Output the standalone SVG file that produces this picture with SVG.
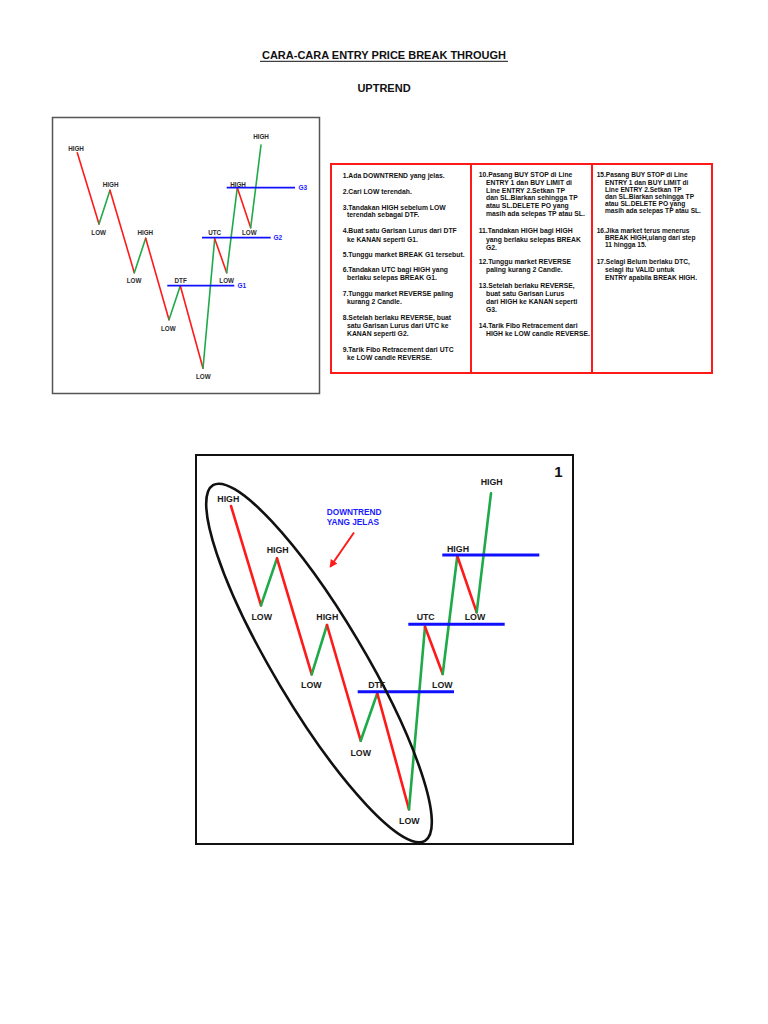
<svg xmlns="http://www.w3.org/2000/svg" width="768" height="1024" viewBox="0 0 768 1024">
<style>
.ttl{font-family:"Liberation Sans",Arial,sans-serif;font-weight:bold;fill:#111;text-anchor:middle}
.sl{font-family:"Liberation Sans",Arial,sans-serif;font-weight:bold;font-size:6.3px;fill:#2a2a2a;text-anchor:middle}
.bl{font-family:"Liberation Sans",Arial,sans-serif;font-weight:bold;font-size:8.8px;fill:#1a1a1a;text-anchor:middle}
.gl{font-family:"Liberation Sans",Arial,sans-serif;font-weight:bold;font-size:6.5px;fill:#1a1aff}
.bx{font-family:"Liberation Sans",Arial,sans-serif;font-weight:bold;font-size:6.8px;fill:#111}
.bx3{font-size:6.6px}
.dn{stroke:#ff1a1a;fill:none;stroke-linecap:round}
.up{stroke:#1faa4a;fill:none;stroke-linecap:round}
.g{stroke:#1010ff;fill:none}
</style>
<defs>
<marker id="ah" viewBox="0 0 10 10" refX="8" refY="5" markerWidth="4" markerHeight="4" orient="auto">
<path d="M0,0 L10,5 L0,10 z" fill="#ff1a1a"/>
</marker>
</defs>
<rect x="0" y="0" width="768" height="1024" fill="#fff"/>

<g id="title">
<text class="ttl" x="384" y="59.3" font-size="11">CARA-CARA ENTRY PRICE BREAK THROUGH</text>
<line x1="260" y1="61.3" x2="508" y2="61.3" stroke="#111" stroke-width="1"/>
<text class="ttl" x="384" y="92" font-size="11">UPTREND</text>
</g>

<g id="small-chart">
<rect x="52.5" y="117.5" width="267" height="276" fill="#fff" stroke="#555" stroke-width="1.5"/>
<g id="small-connectors" stroke-width="1.6">
<polyline class="dn" points="77.3,152.7 99,224"/>
<polyline class="up" points="99,224 110,190.3"/>
<polyline class="dn" points="110,190.3 134.3,272.7"/>
<polyline class="up" points="134.3,272.7 145.7,238.3"/>
<polyline class="dn" points="145.7,238.3 169,319.7"/>
<polyline class="up" points="169,319.7 180.3,285.7"/>
<polyline class="dn" points="180.3,285.7 203,368.3"/>
<polyline class="up" points="203,368.3 214.7,238.7"/>
<polyline class="dn" points="214.7,238.7 226.7,272.7"/>
<polyline class="up" points="226.7,272.7 237.3,187.7"/>
<polyline class="dn" points="237.3,187.7 250.7,227.7"/>
<polyline class="up" points="250.7,227.7 261,145"/>
<line class="g" x1="167.3" y1="285.7" x2="234.3" y2="285.7" stroke-width="1.8"/>
<line class="g" x1="202" y1="237.7" x2="270.7" y2="237.7" stroke-width="1.8"/>
<line class="g" x1="226.7" y1="187.7" x2="295" y2="187.7" stroke-width="1.8"/>
</g>
<text class="sl" x="76" y="151">HIGH</text>
<text class="sl" x="98.7" y="234.5">LOW</text>
<text class="sl" x="110.7" y="186.5">HIGH</text>
<text class="sl" x="134" y="282.5">LOW</text>
<text class="sl" x="145.3" y="234.5">HIGH</text>
<text class="sl" x="168.3" y="330.5">LOW</text>
<text class="sl" x="180.7" y="282.5">DTF</text>
<text class="sl" x="203.3" y="378.5">LOW</text>
<text class="sl" x="214.7" y="234.5">UTC</text>
<text class="sl" x="226.7" y="282.5">LOW</text>
<text class="sl" x="238" y="186.5">HIGH</text>
<text class="sl" x="249.3" y="234.5">LOW</text>
<text class="sl" x="261" y="139.3">HIGH</text>
<text class="gl" x="237.5" y="288">G1</text>
<text class="gl" x="273.5" y="239.5">G2</text>
<text class="gl" x="298.5" y="190">G3</text>
</g>

<g id="steps">
<rect x="331" y="164" width="381" height="209" fill="#fff" stroke="#ff1a1a" stroke-width="2"/>
<line x1="471" y1="164" x2="471" y2="373" stroke="#ff1a1a" stroke-width="2"/>
<line x1="592" y1="164" x2="592" y2="373" stroke="#ff1a1a" stroke-width="2"/>
<g id="steps-col1" class="bx">
<text x="342.7" y="177.7">1.Ada DOWNTREND yang jelas.</text>
<text x="342.7" y="194">2.Cari LOW terendah.</text>
<text x="342.7" y="209.7">3.Tandakan HIGH sebelum LOW</text>
<text x="347" y="217.4">terendah sebagai DTF.</text>
<text x="342.7" y="233">4.Buat satu Garisan Lurus dari DTF</text>
<text x="347" y="241.5">ke KANAN seperti G1.</text>
<text x="342.7" y="257.4">5.Tunggu market BREAK G1 tersebut.</text>
<text x="342.7" y="272.4">6.Tandakan UTC bagi HIGH yang</text>
<text x="347" y="280.4">berlaku selepas BREAK G1.</text>
<text x="342.7" y="296.4">7.Tunggu market REVERSE paling</text>
<text x="347" y="303.7">kurang 2 Candle.</text>
<text x="342.7" y="319.7">8.Setelah berlaku REVERSE, buat</text>
<text x="347" y="328">satu Garisan Lurus dari UTC ke</text>
<text x="347" y="336.4">KANAN seperti G2.</text>
<text x="342.7" y="352.4">9.Tarik Fibo Retracement dari UTC</text>
<text x="347" y="360.4">ke LOW candle REVERSE.</text>
</g>
<g id="steps-col2" class="bx">
<text x="478.7" y="177.4">10.Pasang BUY STOP di Line</text>
<text x="486" y="185.1">ENTRY 1 dan BUY LIMIT di</text>
<text x="486" y="193">Line ENTRY 2.Setkan TP</text>
<text x="486" y="200.4">dan SL.Biarkan sehingga TP</text>
<text x="486" y="207.7">atau SL.DELETE PO yang</text>
<text x="486" y="215.7">masih ada selepas TP atau SL.</text>
<text x="478.7" y="233.4">11.Tandakan HIGH bagi HIGH</text>
<text x="486" y="241.7">yang berlaku selepas BREAK</text>
<text x="486" y="249.7">G2.</text>
<text x="478.7" y="264">12.Tunggu market REVERSE</text>
<text x="486" y="271.7">paling kurang 2 Candle.</text>
<text x="478.7" y="288.4">13.Setelah berlaku REVERSE,</text>
<text x="486" y="296.4">buat satu Garisan Lurus</text>
<text x="486" y="304">dari HIGH ke KANAN seperti</text>
<text x="486" y="312.4">G3.</text>
<text x="478.7" y="328.4">14.Tarik Fibo Retracement dari</text>
<text x="486" y="336.4">HIGH ke LOW candle REVERSE.</text>
</g>
<g id="steps-col3" class="bx bx3">
<text x="596.7" y="177.3">15.Pasang BUY STOP di Line</text>
<text x="605" y="184.5">ENTRY 1 dan BUY LIMIT di</text>
<text x="605" y="191.7">Line ENTRY 2.Setkan TP</text>
<text x="605" y="198.9">dan SL.Biarkan sehingga TP</text>
<text x="605" y="206.1">atau SL.DELETE PO yang</text>
<text x="605" y="213.3">masih ada selepas TP atau SL.</text>
<text x="596.7" y="232.5">16.Jika market terus menerus</text>
<text x="605" y="239.8">BREAK HIGH,ulang dari step</text>
<text x="605" y="247.1">11 hingga 15.</text>
<text x="596.7" y="264.4">17.Selagi Belum berlaku DTC,</text>
<text x="605" y="272">selagi itu VALID untuk</text>
<text x="605" y="279.6">ENTRY apabila BREAK HIGH.</text>
</g>
</g>

<g id="big-chart">
<rect x="196" y="455" width="377" height="389" fill="#fff" stroke="#111" stroke-width="2"/>
<text x="558.5" y="477" font-family="Liberation Sans,Arial,sans-serif" font-weight="bold" font-size="15" fill="#111" text-anchor="middle">1</text>
</g>

<g id="connectors" stroke-width="2.6">
<polyline class="dn" points="231,506 261,605.3"/>
<polyline class="up" points="261,605.3 277,558.3"/>
<polyline class="dn" points="277,558.3 311.7,674.3"/>
<polyline class="up" points="311.7,674.3 327,625"/>
<polyline class="dn" points="327,625 360.7,740.7"/>
<polyline class="up" points="360.7,740.7 377.3,693.3"/>
<polyline class="dn" points="377.3,693.3 409,809.3"/>
<polyline class="up" points="409,809.3 425,626.7"/>
<polyline class="dn" points="425,626.7 442.7,674"/>
<polyline class="up" points="442.7,674 457.3,556"/>
<polyline class="dn" points="457.3,556 476.7,612.3"/>
<polyline class="up" points="476.7,612.3 491,493.3"/>
<line class="g" x1="357.7" y1="691.7" x2="454" y2="691.7" stroke-width="3"/>
<line class="g" x1="408.3" y1="624.3" x2="504.7" y2="624.3" stroke-width="3"/>
<line class="g" x1="442.3" y1="555" x2="539.3" y2="555" stroke-width="3"/>
<ellipse cx="319" cy="663" rx="207" ry="45" transform="rotate(59.2 319 663)" fill="none" stroke="#111" stroke-width="2.6"/>
<line x1="354" y1="532.5" x2="330.5" y2="566.5" stroke="#ff1a1a" stroke-width="2" marker-end="url(#ah)"/>
</g>

<g id="big-labels">
<text class="bl" x="228.3" y="502.3">HIGH</text>
<text class="bl" x="261.7" y="619.7">LOW</text>
<text class="bl" x="277.7" y="553">HIGH</text>
<text class="bl" x="311.3" y="688">LOW</text>
<text class="bl" x="327.3" y="620">HIGH</text>
<text class="bl" x="360.7" y="755.7">LOW</text>
<text class="bl" x="376.7" y="688">DTF</text>
<text class="bl" x="409.3" y="823.7">LOW</text>
<text class="bl" x="425.7" y="620.3">UTC</text>
<text class="bl" x="442.3" y="688.3">LOW</text>
<text class="bl" x="458" y="552.3">HIGH</text>
<text class="bl" x="475" y="619.7">LOW</text>
<text class="bl" x="491.7" y="485">HIGH</text>
<text x="326.7" y="515" font-family="Liberation Sans,Arial,sans-serif" font-weight="bold" font-size="8.3" fill="#1a1aff">DOWNTREND</text>
<text x="326.7" y="525.3" font-family="Liberation Sans,Arial,sans-serif" font-weight="bold" font-size="8.3" fill="#1a1aff">YANG JELAS</text>
</g>
</svg>
